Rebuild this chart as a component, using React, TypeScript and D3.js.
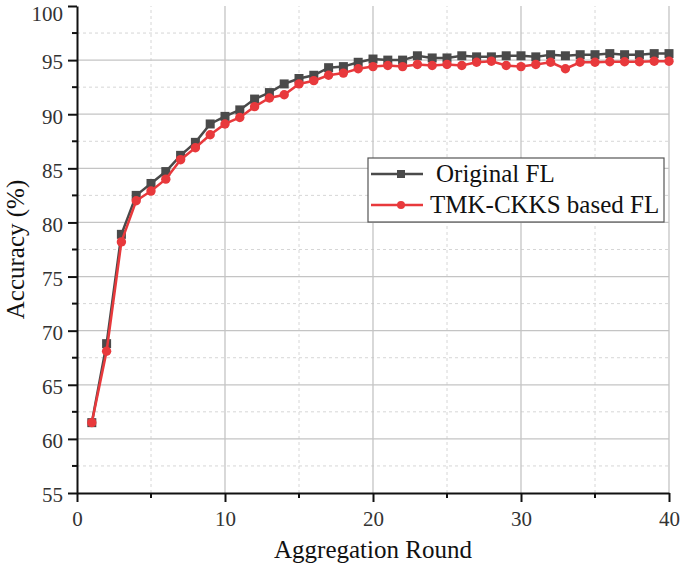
import React, { useEffect, useRef } from 'react';
import * as d3 from 'd3';

const rounds = d3.range(1, 41);

const originalFL = [
  61.5, 68.8, 78.9, 82.5, 83.6, 84.7, 86.2, 87.4, 89.1, 89.8,
  90.4, 91.4, 92.0, 92.8, 93.3, 93.6, 94.3, 94.4, 94.8, 95.1,
  95.0, 95.0, 95.4, 95.2, 95.2, 95.4, 95.3, 95.3, 95.4, 95.4,
  95.3, 95.5, 95.4, 95.5, 95.5, 95.6, 95.5, 95.5, 95.6, 95.6,
];

const tmkFL = [
  61.5, 68.1, 78.2, 82.0, 82.9, 84.0, 85.8, 86.9, 88.1, 89.1,
  89.7, 90.7, 91.5, 91.8, 92.8, 93.1, 93.6, 93.8, 94.2, 94.4,
  94.5, 94.4, 94.6, 94.5, 94.6, 94.5, 94.8, 94.9, 94.5, 94.4,
  94.6, 94.8, 94.2, 94.8, 94.8, 94.85, 94.85, 94.85, 94.9, 94.9,
];

const xTicks = [0, 10, 20, 30, 40];
const yTicks = [55, 60, 65, 70, 75, 80, 85, 90, 95, 100];

const series = [
  { name: 'Original FL', values: originalFL, color: '#4a4a4a', marker: 'square' },
  { name: 'TMK-CKKS based FL', values: tmkFL, color: '#e8393c', marker: 'circle' },
];

const W = 685;
const H = 568;
const margin = { left: 77, right: 16, top: 6, bottom: 75 };
const font = 'Liberation Serif, DejaVu Serif, serif';

const App: React.FC = () => {
  const svgRef = useRef<SVGSVGElement | null>(null);

  useEffect(() => {
    if (!svgRef.current) return;
    const svg = d3.select(svgRef.current);
    svg.selectAll('*').remove();

    const x = d3.scaleLinear().domain([0, 40]).range([margin.left, W - margin.right]);
    const y = d3.scaleLinear().domain([55, 100]).range([H - margin.bottom, margin.top]);

    const grid = svg.append('g');
    // minor dashed grid
    [5, 15, 25, 35].forEach(v => {
      grid.append('line')
        .attr('x1', x(v)).attr('x2', x(v)).attr('y1', y(55)).attr('y2', y(100))
        .attr('stroke', '#d6d6d6').attr('stroke-width', 1).attr('stroke-dasharray', '3,3');
    });
    d3.range(57.5, 100, 5).forEach(v => {
      grid.append('line')
        .attr('x1', x(0)).attr('x2', x(40)).attr('y1', y(v)).attr('y2', y(v))
        .attr('stroke', '#d6d6d6').attr('stroke-width', 1).attr('stroke-dasharray', '3,3');
    });
    // major solid grid
    xTicks.filter(v => v > 0).forEach(v => {
      grid.append('line')
        .attr('x1', x(v)).attr('x2', x(v)).attr('y1', y(55)).attr('y2', y(100))
        .attr('stroke', '#c4c4c4').attr('stroke-width', 1.3);
    });
    yTicks.filter(v => v > 55 && v < 100).forEach(v => {
      grid.append('line')
        .attr('x1', x(0)).attr('x2', x(40)).attr('y1', y(v)).attr('y2', y(v))
        .attr('stroke', '#c4c4c4').attr('stroke-width', 1.3);
    });

    // axes
    const xAxis = svg.append('g')
      .attr('transform', `translate(0,${y(55)})`)
      .call(d3.axisBottom(x).tickValues(xTicks).tickSize(9).tickPadding(9).tickSizeOuter(0));
    xAxis.append('g').selectAll('line')
      .data([5, 15, 25, 35]).enter().append('line')
      .attr('x1', d => x(d)).attr('x2', d => x(d)).attr('y1', 0).attr('y2', 5)
      .attr('stroke', '#111').attr('stroke-width', 2);

    const yAxis = svg.append('g')
      .attr('transform', `translate(${x(0)},0)`)
      .call(d3.axisLeft(y).tickValues(yTicks).tickSize(9).tickPadding(5).tickSizeOuter(0));
    yAxis.append('g').selectAll('line')
      .data(d3.range(57.5, 100, 5)).enter().append('line')
      .attr('x1', 0).attr('x2', -5).attr('y1', d => y(d)).attr('y2', d => y(d))
      .attr('stroke', '#111').attr('stroke-width', 2);
    // top label sits a little below its tick so it is not clipped
    yAxis.selectAll<SVGTextElement, number>('.tick text')
      .attr('dy', d => (d === 100 ? '0.7em' : '0.42em'));

    svg.selectAll('.domain, .tick line').attr('stroke', '#111').attr('stroke-width', 2);
    svg.selectAll('g').attr('font-family', font);
    svg.selectAll('.tick text')
      .attr('font-family', font)
      .style('font-family', font).style('font-size', '21px').style('fill', '#333');

    // series
    const line = d3.line<number>()
      .x((_, i) => x(rounds[i]))
      .y(d => y(d));

    series.forEach(s => {
      svg.append('path')
        .datum(s.values)
        .attr('d', line)
        .attr('fill', 'none')
        .attr('stroke', s.color)
        .attr('stroke-width', 2.5);
      if (s.marker === 'square') {
        svg.append('g').selectAll('rect')
          .data(s.values).enter().append('rect')
          .attr('x', (_, i) => x(rounds[i]) - 4.5)
          .attr('y', d => y(d) - 4.5)
          .attr('width', 9).attr('height', 9)
          .attr('fill', s.color);
      } else {
        svg.append('g').selectAll('circle')
          .data(s.values).enter().append('circle')
          .attr('cx', (_, i) => x(rounds[i]))
          .attr('cy', d => y(d))
          .attr('r', 4.7)
          .attr('fill', s.color);
      }
    });

    // legend
    const lg = svg.append('g').attr('transform', 'translate(368,158)');
    lg.append('rect')
      .attr('width', 296).attr('height', 64)
      .attr('fill', '#fff').attr('stroke', '#555').attr('stroke-width', 1.2);
    series.forEach((s, i) => {
      const cy = 16 + i * 31;
      lg.append('line')
        .attr('x1', 3).attr('x2', 55).attr('y1', cy).attr('y2', cy)
        .attr('stroke', s.color).attr('stroke-width', 2.5);
      if (s.marker === 'square') {
        lg.append('rect').attr('x', 33 - 4).attr('y', cy - 4).attr('width', 8).attr('height', 8).attr('fill', s.color);
      } else {
        lg.append('circle').attr('cx', 33).attr('cy', cy).attr('r', 4).attr('fill', s.color);
      }
      lg.append('text')
        .attr('x', i === 0 ? 68 : 62).attr('y', cy + 8)
        .text(s.name)
        .style('font-family', font).style('font-size', '25px').style('fill', '#111');
    });

    // axis titles
    svg.append('text')
      .attr('x', (x(0) + x(40)) / 2).attr('y', 558)
      .attr('text-anchor', 'middle')
      .text('Aggregation Round')
      .style('font-family', font).style('font-size', '25px').style('fill', '#111');
    svg.append('text')
      .attr('transform', `translate(24,${(y(55) + y(100)) / 2}) rotate(-90)`)
      .attr('text-anchor', 'middle')
      .text('Accuracy (%)')
      .style('font-family', font).style('font-size', '25px').style('fill', '#111');
  }, []);

  return (
    <svg ref={svgRef} width={W} height={H}
      style={{ position: 'absolute', left: 0, top: 0, background: '#fff', fontFamily: font }} />
  );
};

export default App;
